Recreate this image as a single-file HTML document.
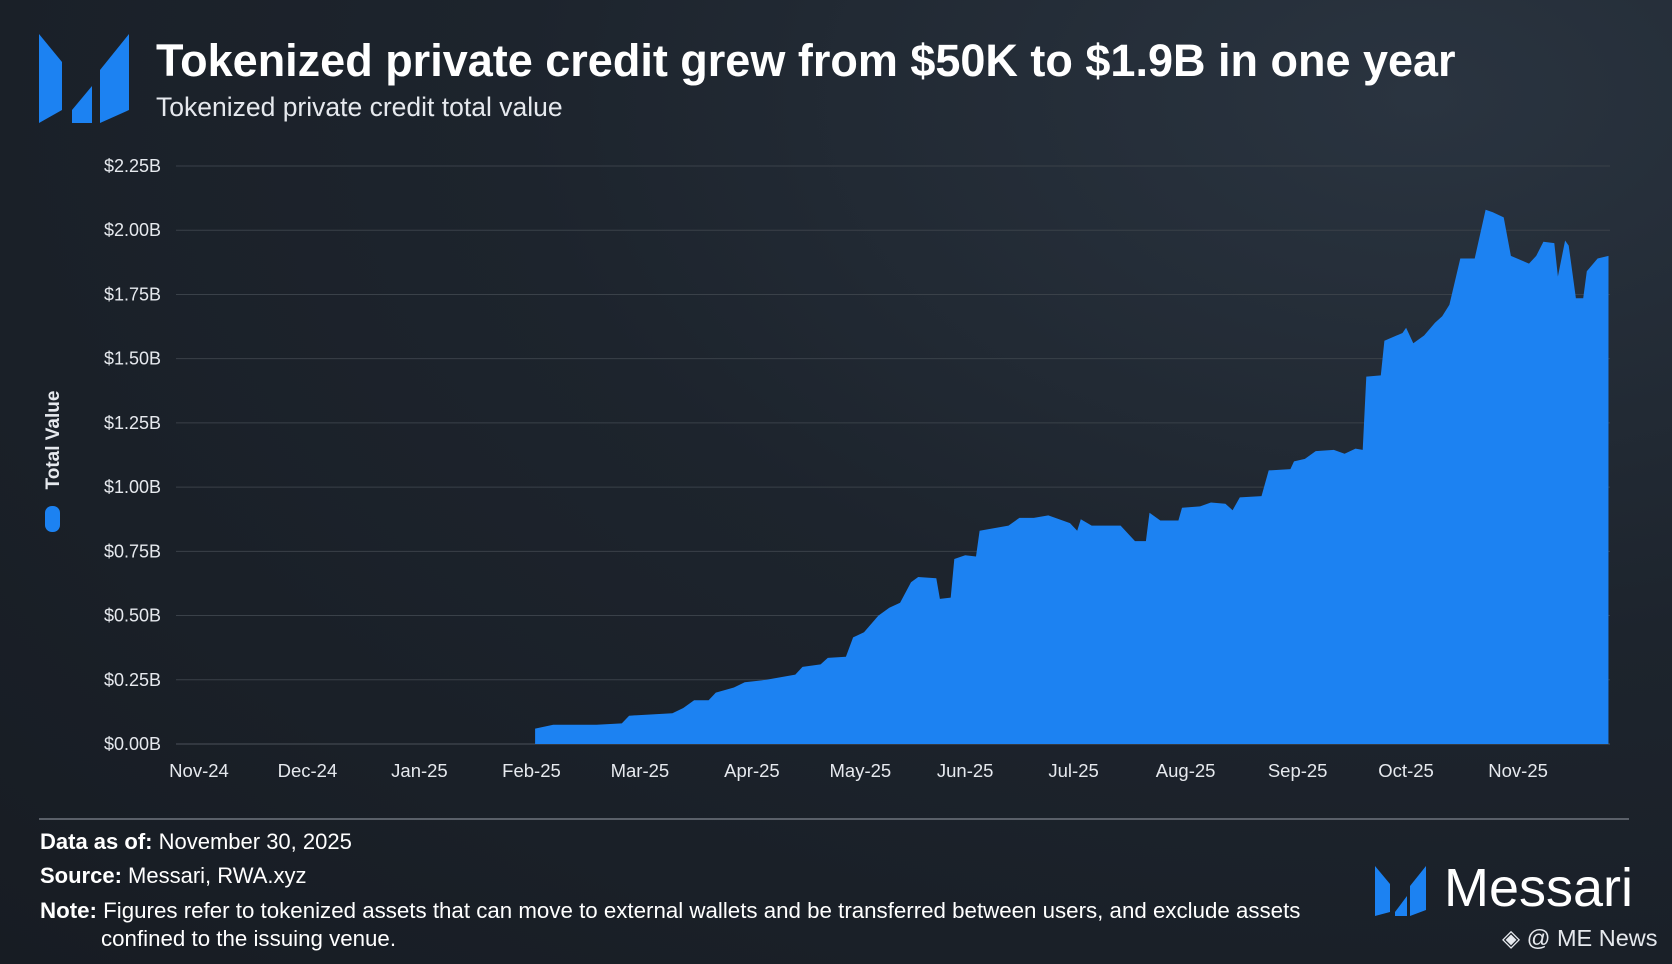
<!DOCTYPE html>
<html><head><meta charset="utf-8"><style>
body{margin:0;width:1672px;height:964px;overflow:hidden;font-family:"Liberation Sans",sans-serif;color:#fff;
background:radial-gradient(ellipse at 85% 10%,#2a3440 0%,#1d242d 45%,#171c23 100%);}
.t{position:absolute;white-space:nowrap}
</style></head><body>
<svg style="position:absolute;left:0;top:0" width="140" height="130">
<polygon points="39,34 62,62 62,110 39,123" fill="#1c82f2"/>
<polygon points="72,110 92,86 92,123 72,123" fill="#1c82f2"/>
<polygon points="100,70 129,34 129,110 100,123" fill="#1c82f2"/>
</svg>
<div class="t" style="left:156px;top:35px;font-size:45px;font-weight:bold">Tokenized private credit grew from $50K to $1.9B in one year</div>
<div class="t" style="left:156px;top:92px;font-size:26.5px;color:#e6e9ee">Tokenized private credit total value</div>
<svg id="chart" style="position:absolute;left:0;top:0" width="1672" height="964"></svg>
<div style="position:absolute;left:39px;top:818px;width:1590px;height:2px;background:#5a6069"></div>
<div class="t" style="left:40px;top:829px;font-size:22px"><b>Data as of:</b> November 30, 2025</div>
<div class="t" style="left:40px;top:863px;font-size:22px"><b>Source:</b> Messari, RWA.xyz</div>
<div class="t" style="left:40px;top:897px;font-size:22.3px;line-height:28px"><b>Note:</b> Figures refer to tokenized assets that can move to external wallets and be transferred between users, and exclude assets<br><span style="padding-left:61px">confined to the issuing venue.</span></div>
<svg style="position:absolute;left:1370px;top:862px" width="60" height="58">
<polygon points="5,4 20,22 20,50 5,54" fill="#1c82f2"/><polygon points="25,50 37,34 37,54 25,54" fill="#1c82f2"/><polygon points="40,24 56,4 56,48 40,54" fill="#1c82f2"/>
</svg>
<div class="t" style="left:1444px;top:857px;font-size:54px">Messari</div>
<div class="t" style="left:1502px;top:924px;font-size:23.5px;color:#e6e9ee">◈ @ ME News</div>
<script>
const yTicks=[0,0.25,0.5,0.75,1.0,1.25,1.5,1.75,2.0,2.25];
const yTickLabels=["$0.00B","$0.25B","$0.50B","$0.75B","$1.00B","$1.25B","$1.50B","$1.75B","$2.00B","$2.25B"];
const monthDays=[0,30,61,92,122,153,183,212,242,273,304,334,365];
const monthLabels=["Nov-24","Dec-24","Jan-25","Feb-25","Mar-25","Apr-25","May-25","Jun-25","Jul-25","Aug-25","Sep-25","Oct-25","Nov-25"];
// days since 2024-11-01
const days=[93,93,98,110,117,119,131,134,137,141,143,148,151,157,165,167,172,174,179,181,184,188,191,194,197,199,204,205,208,209,212,215,216,224,227,231,235,241,243,244,247,255,257,259,262,263,266,271,272,277,280,284,286,288,294,296,302,303,306,309,314,317,320,322,323,327,328,333,334,336,339,342,344,346,349,353,356,358,361,363,368,370,372,375,376,378,379,381,383,384,387,390];
const values=[0,0.06,0.075,0.075,0.08,0.11,0.12,0.14,0.17,0.17,0.20,0.22,0.24,0.25,0.27,0.30,0.31,0.335,0.34,0.415,0.435,0.50,0.53,0.55,0.63,0.65,0.645,0.565,0.57,0.72,0.735,0.73,0.83,0.85,0.88,0.88,0.89,0.86,0.83,0.875,0.85,0.85,0.82,0.79,0.79,0.90,0.87,0.87,0.92,0.925,0.94,0.935,0.91,0.96,0.965,1.065,1.07,1.10,1.11,1.14,1.145,1.13,1.15,1.145,1.43,1.435,1.57,1.60,1.62,1.56,1.59,1.64,1.665,1.71,1.89,1.89,2.08,2.07,2.05,1.90,1.87,1.90,1.955,1.95,1.82,1.96,1.94,1.735,1.735,1.84,1.89,1.90];
const NS='http://www.w3.org/2000/svg',svg=document.getElementById('chart');
const x=d=>199+d*3.614, y=v=>744-v/2.25*578;
function mk(tag,attrs,text){const e=document.createElementNS(NS,tag);for(const k in attrs)e.setAttribute(k,attrs[k]);if(text!==undefined)e.textContent=text;svg.appendChild(e);return e;}
yTicks.forEach((t,i)=>{
 const g=mk('line',{x1:176,x2:1610,y1:y(t),y2:y(t),stroke:i==0?'#4a5059':'#3a4149','stroke-width':1});
 
 
 const l=mk('text',{x:161,y:y(t)+6,'text-anchor':'end','font-size':18,fill:'#e6e9ee','font-family':'Liberation Sans'},yTickLabels[i]);
 
 
});
monthDays.forEach((d,i)=>{
 const l=mk('text',{x:x(d),y:777,'text-anchor':'middle','font-size':18.5,fill:'#e6e9ee','font-family':'Liberation Sans'},monthLabels[i]);
 
 
});
let dstr='M'+x(days[0])+','+y(0);
days.forEach((d,i)=>{dstr+=' L'+x(d).toFixed(1)+','+y(values[i]).toFixed(1);});
dstr+=' L'+x(days[days.length-1])+','+y(0)+' Z';
const a=mk('path',{d:dstr,fill:'#1c82f2'});


const yt=mk('text',{x:0,y:0,transform:'translate(59,440) rotate(-90)','text-anchor':'middle','font-size':19,'font-weight':'bold',fill:'#e6e9ee','font-family':'Liberation Sans'},'Total Value');


const lg=mk('rect',{x:45,y:506,width:15,height:26,rx:7,fill:'#1c82f2'});


</script>
</body></html>
